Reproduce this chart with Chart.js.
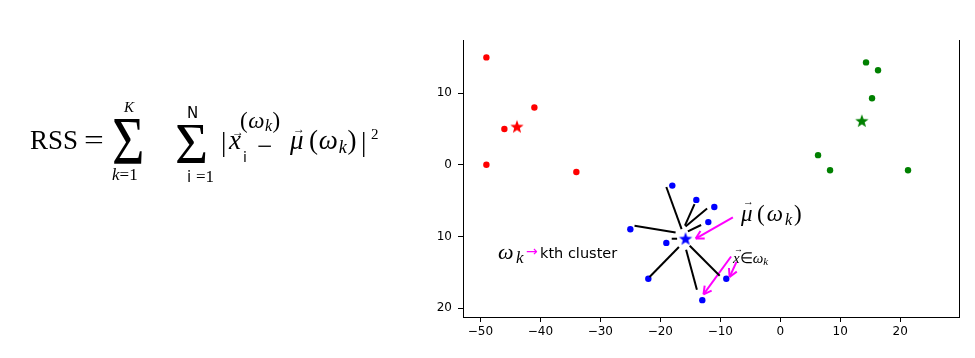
<!DOCTYPE html>
<html>
<head>
<meta charset="utf-8">
<script src="https://cdn.jsdelivr.net/npm/chart.js@4.4.1/dist/chart.umd.min.js"></script>
<style>
  html, body { margin: 0; padding: 0; background: #fff; }
  #wrap { position: relative; width: 975px; height: 358px; overflow: hidden; }
  #chart { position: absolute; left: 0; top: 0; }
  .t { position: absolute; white-space: nowrap; line-height: normal; color: #000; }
  .serif { font-family: 'Liberation Serif', serif; }
  .sans { font-family: 'DejaVu Sans', sans-serif; }
  .i { font-style: italic; }
  .sub { position: relative; font-style: italic; }
</style>
</head>
<body>
<div id="wrap"><canvas id="chart" width="975" height="358"></canvas></div>
<script>
// axis ticks
const xTicks = [-50, -40, -30, -20, -10, 0, 10, 20];
const yTicks = [10, 0, -10, -20];
const yTickLabels = ['10', '0', '10', '20'];

// clusters
const redX = [-49, -49, -46, -41, -34];
const redY = [15, 0, 5, 8, -1];
const redCenter = [-43.9, 5.35];

const greenX = [14.3, 16.3, 15.3, 6.3, 8.3, 21.3];
const greenY = [14.3, 13.2, 9.3, 1.35, -0.75, -0.75];
const greenCenter = [13.6, 6.15];

const blueX = [-18, -14, -11, -12, -25, -19, -22, -9, -13];
const blueY = [-2.9, -4.9, -5.9, -8, -9, -10.9, -15.9, -15.9, -18.9];
const blueCenter = [-15.8, -10.3];

// hand drawn spokes (start, end)
const spokeX = [[-19.0, -16.45], [-15.9, -14.3], [-15.8, -12.2], [-15.4, -13.2], [-24.3, -17.45], [-18.1, -17.2], [-21.8, -16.9], [-15.7, -13.9], [-15.1, -10.1]];
const spokeY = [[-3.1, -8.97], [-8.5, -5.5], [-8.6, -6.1], [-9.3, -8.4], [-8.5, -9.44], [-10.32, -10.32], [-15.66, -11.48], [-11.85, -17.43], [-11.3, -15.48]];

// magenta arrows (tail, head)
const arrowX = [[-7.9, -14.1], [-8.2, -12.8], [-7.3, -8.45]];
const arrowY = [[-7.35, -10.3], [-12.8, -18.1], [-13.55, -15.66]];

const pts = (xs, ys) => xs.map((x, i) => ({ x, y: ys[i] }));

function starImage(color, r) {
  const size = Math.ceil(r * 2 + 2);
  const c = document.createElement('canvas');
  c.width = c.height = size;
  const g = c.getContext('2d');
  g.fillStyle = color;
  g.beginPath();
  for (let k = 0; k < 10; k++) {
    const rr = k % 2 ? r * 0.42 : r;
    const a = -Math.PI / 2 + k * Math.PI / 5;
    const px = size / 2 + rr * Math.cos(a);
    const py = size / 2 + 0.6 + rr * Math.sin(a);
    if (k) g.lineTo(px, py); else g.moveTo(px, py);
  }
  g.closePath();
  g.fill();
  return c;
}

const dot = color => ({ backgroundColor: color, borderWidth: 0, pointRadius: 3.2, pointHoverRadius: 3.2 });
const star = color => ({ pointStyle: starImage(color, 7), pointRadius: 7 });

const datasets = [];
spokeX.forEach((xs, i) => datasets.push({
  data: pts(xs, spokeY[i]), showLine: true, borderColor: '#000', borderWidth: 2, pointRadius: 0,
}));
datasets.push({ data: pts(redX, redY), ...dot('#ff0000') });
datasets.push({ data: pts(greenX, greenY), ...dot('#008000') });
datasets.push({ data: pts(blueX, blueY), ...dot('#0000ff') });
datasets.push({ data: [{ x: redCenter[0], y: redCenter[1] }], ...star('#ff0000') });
datasets.push({ data: [{ x: greenCenter[0], y: greenCenter[1] }], ...star('#008000') });
datasets.push({ data: [{ x: blueCenter[0], y: blueCenter[1] }], ...star('#0000ff') });
arrowX.forEach((xs, i) => datasets.push({
  data: pts(xs, arrowY[i]), showLine: true, borderColor: '#ff00ff', borderWidth: 2, pointRadius: 0, arrow: true,
}));

const arrowHeads = {
  id: 'arrowHeads',
  afterDatasetsDraw(chart) {
    const ctx = chart.ctx;
    chart.data.datasets.forEach((ds, i) => {
      if (!ds.arrow) return;
      const p = chart.getDatasetMeta(i).data;
      const a = p[p.length - 2], b = p[p.length - 1];
      const ang = Math.atan2(b.y - a.y, b.x - a.x);
      ctx.save();
      ctx.strokeStyle = ds.borderColor;
      ctx.lineWidth = 2;
      ctx.beginPath();
      [-0.5, 0.5].forEach(d => {
        ctx.moveTo(b.x, b.y);
        ctx.lineTo(b.x - 9 * Math.cos(ang + d), b.y - 9 * Math.sin(ang + d));
      });
      ctx.stroke();
      ctx.restore();
    });
  },
};

const rightSpine = {
  id: 'rightSpine',
  afterDraw(chart) {
    const { ctx, chartArea: { right, top, bottom } } = chart;
    ctx.save();
    ctx.strokeStyle = '#000';
    ctx.lineWidth = 1;
    ctx.beginPath();
    ctx.moveTo(right + 0.5, top);
    ctx.lineTo(right + 0.5, bottom + 0.5);
    ctx.stroke();
    ctx.restore();
  },
};

const tickFont = { family: "'DejaVu Sans', sans-serif", size: 12 };

new Chart(document.getElementById('chart').getContext('2d'), {
  type: 'scatter',
  data: { datasets },
  plugins: [arrowHeads, rightSpine],
  options: {
    responsive: false,
    animation: false,
    devicePixelRatio: 1,
    layout: { padding: { left: 423, top: 40, right: 16, bottom: 11 } },
    plugins: { legend: { display: false }, tooltip: { enabled: false } },
    scales: {
      x: {
        type: 'linear', min: -52.9, max: 29.8,
        afterBuildTicks: s => { s.ticks = xTicks.map(v => ({ value: v })); },
        afterFit: s => { s.height = 30; },
        ticks: {
          font: tickFont, color: '#000', padding: 3, maxRotation: 0, autoSkip: false,
          callback: v => (v < 0 ? '\u2212' + Math.abs(v) : String(v)),
        },
        grid: { drawOnChartArea: false, tickLength: 5, tickColor: '#000', tickWidth: 1 },
        border: { color: '#000', width: 1 },
      },
      y: {
        type: 'linear', min: -21.25, max: 17.43,
        afterBuildTicks: s => { s.ticks = yTicks.map(v => ({ value: v })); },
        afterFit: s => { s.width = 40; },
        ticks: {
          font: tickFont, color: '#000', padding: 6, autoSkip: false,
          callback: (v, i) => yTickLabels[i],
        },
        grid: { drawOnChartArea: false, tickLength: 5, tickColor: '#000', tickWidth: 1 },
        border: { color: '#000', width: 1 },
      },
    },
  },
});

// formula and annotation text: [html, left, baseline, size, family, extra style]
const ASC = { serif: 0.891, sans: 0.928 };
const texts = [
  ['RSS', 30, 149, 27, 'serif'],
  ['=', 84, 149, 27, 'serif', 'transform:scaleX(1.3);transform-origin:left;'],
  ['Σ', 112, 162, 68, 'serif', 'transform:scaleX(0.82);transform-origin:left;'],
  ['<span class="i">K</span>', 124, 112, 15, 'serif'],
  ['<span class="i">k</span>=1', 112, 180, 17, 'serif'],
  ['Σ', 175, 162, 58, 'serif', 'transform:scaleX(0.98);transform-origin:left;'],
  ['N', 187, 118, 15, 'sans'],
  ['i', 187, 182, 15, 'sans'],
  ['=1', 196, 182, 17, 'serif'],
  ['|', 221, 151, 27, 'serif'],
  ['<span class="i">x</span>', 229, 149, 27, 'serif'],
  ['→', 232, 136, 12, 'serif'],
  ['(<span class="i">ω</span><span class="sub" style="font-size:16px;top:3px">k</span>)', 240, 128, 23, 'serif', 'letter-spacing:0.5px;'],
  ['i', 243, 162, 14, 'sans'],
  ['−', 257, 155, 27, 'serif'],
  ['<span class="i">μ</span>', 290, 149, 27, 'serif'],
  ['→', 293, 133, 12, 'serif'],
  ['(<span class="i">ω</span><span class="sub" style="font-size:18px;top:4px">k</span>)', 309, 149, 27, 'serif', 'letter-spacing:0.8px;'],
  ['|', 361, 151, 27, 'serif'],
  ['2', 371, 139, 15, 'serif'],

  ['<span class="i">μ</span>', 741, 221, 23, 'serif'],
  ['→', 743, 205, 11, 'serif'],
  ['(<span class="i">ω</span><span class="sub" style="font-size:16px;top:4px">k</span>)', 757, 221, 23, 'serif', 'letter-spacing:2px;'],
  ['<span class="i">x</span>∈<span class="i">ω</span><span class="sub" style="font-size:11px;top:2px">k</span>', 733, 262, 15, 'serif'],
  ['→', 734, 252, 9, 'serif'],
  ['<span class="i">ω</span>', 498, 259, 22, 'serif'],
  ['<span class="i">k</span>', 516, 263, 17, 'serif'],
  ['<span style="color:#ff00ff">→</span>', 526, 256, 14, 'sans'],
  ['kth cluster', 540, 258, 14.5, 'sans'],
];
const wrap = document.getElementById('wrap');
texts.forEach(([html, x, b, size, fam, extra]) => {
  const el = document.createElement('div');
  el.className = 't ' + fam;
  el.innerHTML = html;
  el.style.cssText = `left:${x}px;top:${b - ASC[fam] * size}px;font-size:${size}px;` + (extra || '');
  wrap.appendChild(el);
});
</script>
</body>
</html>
